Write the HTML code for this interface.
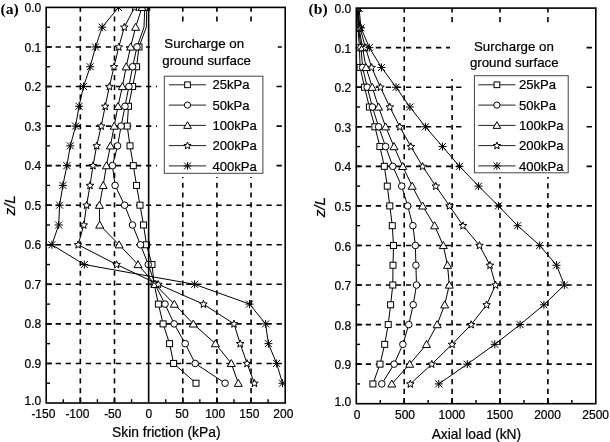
<!DOCTYPE html>
<html><head><meta charset="utf-8"><title>Skin friction and axial load</title>
<style>
html,body{margin:0;padding:0;background:#fff;}
body{width:610px;height:442px;overflow:hidden;}
svg{display:block;}
.t{font-family:"Liberation Sans",Arial,Helvetica,sans-serif;fill:#000;stroke:#000;stroke-width:0.22px;}
.mk{fill:#fff;stroke:#000;stroke-width:1.0;}
.ak{fill:none;stroke:#000;stroke-width:1.0;}
.ln{fill:none;stroke:#000;stroke-width:1.0;stroke-linejoin:round;}
.fr{fill:none;stroke:#000;stroke-width:1.6;}
.gh{fill:none;stroke:#000;stroke-width:1.6;stroke-dasharray:5.3 4.74;}
.gv{fill:none;stroke:#000;stroke-width:1.6;stroke-dasharray:5.2 4.58;}
.tk{fill:none;stroke:#000;stroke-width:1.4;}
.tk2{fill:none;stroke:#000;stroke-width:1.6;}
.lg{fill:#fff;stroke:#444;stroke-width:1;}
.ll{fill:none;stroke:#222;stroke-width:1;}
</style></head><body>
<svg width="610" height="442" viewBox="0 0 610 442">
<rect width="610" height="442" fill="#fff"/>
<defs>
<clipPath id="cl"><rect x="46.2" y="7.4" width="239" height="395.6"/></clipPath>
<clipPath id="cr"><rect x="356.3" y="8.1" width="239.5" height="395.6"/></clipPath>
</defs>
<path class="gh" d="M45.6 46.96H285.2"/>
<path class="tk2" d="M46.2 46.96H52"/>
<path class="gh" d="M45.6 86.52H285.2"/>
<path class="tk2" d="M46.2 86.52H52"/>
<path class="gh" d="M45.6 126.08H285.2"/>
<path class="tk2" d="M46.2 126.08H52"/>
<path class="gh" d="M45.6 165.64H285.2"/>
<path class="tk2" d="M46.2 165.64H52"/>
<path class="gh" d="M45.6 205.2H285.2"/>
<path class="tk2" d="M46.2 205.2H52"/>
<path class="gh" d="M45.6 244.76H285.2"/>
<path class="tk2" d="M46.2 244.76H52"/>
<path class="gh" d="M45.6 284.32H285.2"/>
<path class="tk2" d="M46.2 284.32H52"/>
<path class="gh" d="M45.6 323.88H285.2"/>
<path class="tk2" d="M46.2 323.88H52"/>
<path class="gh" d="M45.6 363.44H285.2"/>
<path class="tk2" d="M46.2 363.44H52"/>
<path class="gv" d="M80.34 403V7.4"/>
<path class="gv" d="M114.49 403V7.4"/>
<path class="gv" d="M182.77 403V7.4"/>
<path class="gv" d="M216.91 403V7.4"/>
<path class="gv" d="M251.06 403V7.4"/>
<path class="tk2" d="M80.34 403V397.4"/>
<path class="tk2" d="M114.49 403V397.4"/>
<path class="tk2" d="M182.77 403V397.4"/>
<path class="tk2" d="M216.91 403V397.4"/>
<path class="tk2" d="M251.06 403V397.4"/>
<path class="tk" d="M46.2 27.18H50"/>
<path class="tk" d="M46.2 66.74H50"/>
<path class="tk" d="M46.2 106.3H50"/>
<path class="tk" d="M46.2 145.86H50"/>
<path class="tk" d="M46.2 185.42H50"/>
<path class="tk" d="M46.2 224.98H50"/>
<path class="tk" d="M46.2 264.54H50"/>
<path class="tk" d="M46.2 304.1H50"/>
<path class="tk" d="M46.2 343.66H50"/>
<path class="tk" d="M46.2 383.22H50"/>
<path class="tk" d="M63.27 403V399.2"/>
<path class="tk" d="M97.41 403V399.2"/>
<path class="tk" d="M131.56 403V399.2"/>
<path class="tk" d="M165.7 403V399.2"/>
<path class="tk" d="M199.84 403V399.2"/>
<path class="tk" d="M233.99 403V399.2"/>
<path class="tk" d="M268.13 403V399.2"/>
<rect x="150" y="22.5" width="127.8" height="56.5" fill="#fff"/>
<rect x="157" y="76" width="119" height="101" fill="#fff"/>
<g clip-path="url(#cl)">
<polyline class="ln" points="118.5,7.4 102.2,27.18 95.5,46.96 90.2,66.74 83.5,86.52 79,106.3 75.6,126.08 70.3,145.86 66.9,165.64 62.9,185.42 59.6,205.2 58.7,224.98 51.9,244.76 84.3,264.54 194.6,284.32 249.5,304.1 265.6,323.88 268.4,343.66 276.6,363.44 282.5,383.22"/>
<polyline class="ln" points="134.6,7.4 124.3,27.18 118.8,46.96 114,66.74 109.4,86.52 105.2,106.3 101.2,126.08 96.7,145.86 93,165.64 90,185.42 86.6,205.2 83.8,224.98 78.1,244.76 116.6,264.54 158.3,284.32 203.4,304.1 234,323.88 240.2,343.66 247,363.44 254.4,383.22"/>
<polyline class="ln" points="142,7.4 135.6,27.18 130.6,46.96 126.2,66.74 122.4,86.52 118,106.3 114.2,126.08 110.4,145.86 106.4,165.64 103.2,185.42 99.4,205.2 99.7,224.98 119.1,244.76 138,264.54 155,284.32 174.3,304.1 193.3,323.88 215.4,343.66 231.3,363.44 238.3,383.22"/>
<polyline class="ln" points="144.8,7.4 144,27.18 137,46.96 132.6,66.74 128.9,86.52 125,106.3 121.1,126.08 117.6,145.86 112.4,165.64 115.1,185.42 124.6,205.2 132.5,224.98 140.5,244.76 148.3,264.54 155,284.32 165,304.1 174.1,323.88 185.2,343.66 195.2,363.44 225.1,383.22"/>
<polyline class="ln" points="146.8,7.4 146.3,27.18 139,46.96 136.6,66.74 132.6,86.52 128.5,106.3 127.2,126.08 130,145.86 133.3,165.64 136.5,185.42 140,205.2 143.5,224.98 146.5,244.76 152,264.54 154.2,284.32 158.4,304.1 163.1,323.88 169.6,343.66 173.6,363.44 196,383.22"/>
<rect x="143.8" y="4.4" width="6" height="6" class="mk"/>
<rect x="136" y="43.96" width="6" height="6" class="mk"/>
<rect x="133.6" y="63.74" width="6" height="6" class="mk"/>
<rect x="129.6" y="83.52" width="6" height="6" class="mk"/>
<rect x="125.5" y="103.3" width="6" height="6" class="mk"/>
<rect x="124.2" y="123.08" width="6" height="6" class="mk"/>
<rect x="127" y="142.86" width="6" height="6" class="mk"/>
<rect x="130.3" y="162.64" width="6" height="6" class="mk"/>
<rect x="133.5" y="182.42" width="6" height="6" class="mk"/>
<rect x="137" y="202.2" width="6" height="6" class="mk"/>
<rect x="140.5" y="221.98" width="6" height="6" class="mk"/>
<rect x="143.5" y="241.76" width="6" height="6" class="mk"/>
<rect x="149" y="261.54" width="6" height="6" class="mk"/>
<rect x="151.2" y="281.32" width="6" height="6" class="mk"/>
<rect x="155.4" y="301.1" width="6" height="6" class="mk"/>
<rect x="160.1" y="320.88" width="6" height="6" class="mk"/>
<rect x="166.6" y="340.66" width="6" height="6" class="mk"/>
<rect x="170.6" y="360.44" width="6" height="6" class="mk"/>
<rect x="193" y="380.22" width="6" height="6" class="mk"/>
<circle cx="144.8" cy="7.4" r="3.3" class="mk"/>
<circle cx="137" cy="46.96" r="3.3" class="mk"/>
<circle cx="132.6" cy="66.74" r="3.3" class="mk"/>
<circle cx="128.9" cy="86.52" r="3.3" class="mk"/>
<circle cx="125" cy="106.3" r="3.3" class="mk"/>
<circle cx="121.1" cy="126.08" r="3.3" class="mk"/>
<circle cx="117.6" cy="145.86" r="3.3" class="mk"/>
<circle cx="112.4" cy="165.64" r="3.3" class="mk"/>
<circle cx="115.1" cy="185.42" r="3.3" class="mk"/>
<circle cx="124.6" cy="205.2" r="3.3" class="mk"/>
<circle cx="132.5" cy="224.98" r="3.3" class="mk"/>
<circle cx="140.5" cy="244.76" r="3.3" class="mk"/>
<circle cx="148.3" cy="264.54" r="3.3" class="mk"/>
<circle cx="155" cy="284.32" r="3.3" class="mk"/>
<circle cx="165" cy="304.1" r="3.3" class="mk"/>
<circle cx="174.1" cy="323.88" r="3.3" class="mk"/>
<circle cx="185.2" cy="343.66" r="3.3" class="mk"/>
<circle cx="195.2" cy="363.44" r="3.3" class="mk"/>
<circle cx="225.1" cy="383.22" r="3.3" class="mk"/>
<polygon points="142,3.5 146,10.52 138,10.52" class="mk"/>
<polygon points="135.6,23.28 139.6,30.3 131.6,30.3" class="mk"/>
<polygon points="130.6,43.06 134.6,50.09 126.6,50.09" class="mk"/>
<polygon points="126.2,62.84 130.2,69.87 122.2,69.87" class="mk"/>
<polygon points="122.4,82.62 126.4,89.65 118.4,89.65" class="mk"/>
<polygon points="118,102.4 122,109.43 114,109.43" class="mk"/>
<polygon points="114.2,122.18 118.2,129.21 110.2,129.21" class="mk"/>
<polygon points="110.4,141.96 114.4,148.99 106.4,148.99" class="mk"/>
<polygon points="106.4,161.74 110.4,168.77 102.4,168.77" class="mk"/>
<polygon points="103.2,181.52 107.2,188.55 99.2,188.55" class="mk"/>
<polygon points="99.4,201.3 103.4,208.33 95.4,208.33" class="mk"/>
<polygon points="99.7,221.08 103.7,228.11 95.7,228.11" class="mk"/>
<polygon points="119.1,240.86 123.1,247.89 115.1,247.89" class="mk"/>
<polygon points="138,260.64 142,267.67 134,267.67" class="mk"/>
<polygon points="155,280.42 159,287.44 151,287.44" class="mk"/>
<polygon points="174.3,300.2 178.3,307.23 170.3,307.23" class="mk"/>
<polygon points="193.3,319.98 197.3,327 189.3,327" class="mk"/>
<polygon points="215.4,339.76 219.4,346.79 211.4,346.79" class="mk"/>
<polygon points="231.3,359.54 235.3,366.56 227.3,366.56" class="mk"/>
<polygon points="238.3,379.32 242.3,386.35 234.3,386.35" class="mk"/>
<polygon points="134.6,3.6 135.63,6.18 138.4,6.36 136.26,8.14 136.95,10.84 134.6,9.35 132.25,10.84 132.94,8.14 130.8,6.36 133.57,6.18" class="mk"/>
<polygon points="124.3,23.38 125.33,25.96 128.1,26.14 125.96,27.92 126.65,30.62 124.3,29.13 121.95,30.62 122.64,27.92 120.5,26.14 123.27,25.96" class="mk"/>
<polygon points="118.8,43.16 119.83,45.74 122.6,45.92 120.46,47.7 121.15,50.4 118.8,48.91 116.45,50.4 117.14,47.7 115,45.92 117.77,45.74" class="mk"/>
<polygon points="114,62.94 115.03,65.52 117.8,65.7 115.66,67.48 116.35,70.18 114,68.69 111.65,70.18 112.34,67.48 110.2,65.7 112.97,65.52" class="mk"/>
<polygon points="109.4,82.72 110.43,85.3 113.2,85.48 111.06,87.26 111.75,89.96 109.4,88.47 107.05,89.96 107.74,87.26 105.6,85.48 108.37,85.3" class="mk"/>
<polygon points="105.2,102.5 106.23,105.08 109,105.26 106.86,107.04 107.55,109.74 105.2,108.25 102.85,109.74 103.54,107.04 101.4,105.26 104.17,105.08" class="mk"/>
<polygon points="101.2,122.28 102.23,124.86 105,125.04 102.86,126.82 103.55,129.52 101.2,128.03 98.85,129.52 99.54,126.82 97.4,125.04 100.17,124.86" class="mk"/>
<polygon points="96.7,142.06 97.73,144.64 100.5,144.82 98.36,146.6 99.05,149.3 96.7,147.81 94.35,149.3 95.04,146.6 92.9,144.82 95.67,144.64" class="mk"/>
<polygon points="93,161.84 94.03,164.42 96.8,164.6 94.66,166.38 95.35,169.08 93,167.59 90.65,169.08 91.34,166.38 89.2,164.6 91.97,164.42" class="mk"/>
<polygon points="90,181.62 91.03,184.2 93.8,184.38 91.66,186.16 92.35,188.86 90,187.37 87.65,188.86 88.34,186.16 86.2,184.38 88.97,184.2" class="mk"/>
<polygon points="86.6,201.4 87.63,203.98 90.4,204.16 88.26,205.94 88.95,208.64 86.6,207.15 84.25,208.64 84.94,205.94 82.8,204.16 85.57,203.98" class="mk"/>
<polygon points="83.8,221.18 84.83,223.76 87.6,223.94 85.46,225.72 86.15,228.42 83.8,226.93 81.45,228.42 82.14,225.72 80,223.94 82.77,223.76" class="mk"/>
<polygon points="78.1,240.96 79.13,243.54 81.9,243.72 79.76,245.5 80.45,248.2 78.1,246.71 75.75,248.2 76.44,245.5 74.3,243.72 77.07,243.54" class="mk"/>
<polygon points="116.6,260.74 117.63,263.32 120.4,263.5 118.26,265.28 118.95,267.98 116.6,266.49 114.25,267.98 114.94,265.28 112.8,263.5 115.57,263.32" class="mk"/>
<polygon points="158.3,280.52 159.33,283.1 162.1,283.28 159.96,285.06 160.65,287.76 158.3,286.27 155.95,287.76 156.64,285.06 154.5,283.28 157.27,283.1" class="mk"/>
<polygon points="203.4,300.3 204.43,302.88 207.2,303.06 205.06,304.84 205.75,307.54 203.4,306.05 201.05,307.54 201.74,304.84 199.6,303.06 202.37,302.88" class="mk"/>
<polygon points="234,320.08 235.03,322.66 237.8,322.84 235.66,324.62 236.35,327.32 234,325.83 231.65,327.32 232.34,324.62 230.2,322.84 232.97,322.66" class="mk"/>
<polygon points="240.2,339.86 241.23,342.44 244,342.62 241.86,344.4 242.55,347.1 240.2,345.61 237.85,347.1 238.54,344.4 236.4,342.62 239.17,342.44" class="mk"/>
<polygon points="247,359.64 248.03,362.22 250.8,362.4 248.66,364.18 249.35,366.88 247,365.39 244.65,366.88 245.34,364.18 243.2,362.4 245.97,362.22" class="mk"/>
<polygon points="254.4,379.42 255.43,382 258.2,382.18 256.06,383.96 256.75,386.66 254.4,385.17 252.05,386.66 252.74,383.96 250.6,382.18 253.37,382" class="mk"/>
<path d="M114.5 7.4H122.5M118.5 3.4V11.4M115 3.9L122 10.9M115 10.9L122 3.9" class="ak"/>
<path d="M98.2 27.18H106.2M102.2 23.18V31.18M98.7 23.68L105.7 30.68M98.7 30.68L105.7 23.68" class="ak"/>
<path d="M91.5 46.96H99.5M95.5 42.96V50.96M92 43.46L99 50.46M92 50.46L99 43.46" class="ak"/>
<path d="M86.2 66.74H94.2M90.2 62.74V70.74M86.7 63.24L93.7 70.24M86.7 70.24L93.7 63.24" class="ak"/>
<path d="M79.5 86.52H87.5M83.5 82.52V90.52M80 83.02L87 90.02M80 90.02L87 83.02" class="ak"/>
<path d="M75 106.3H83M79 102.3V110.3M75.5 102.8L82.5 109.8M75.5 109.8L82.5 102.8" class="ak"/>
<path d="M71.6 126.08H79.6M75.6 122.08V130.08M72.1 122.58L79.1 129.58M72.1 129.58L79.1 122.58" class="ak"/>
<path d="M66.3 145.86H74.3M70.3 141.86V149.86M66.8 142.36L73.8 149.36M66.8 149.36L73.8 142.36" class="ak"/>
<path d="M62.9 165.64H70.9M66.9 161.64V169.64M63.4 162.14L70.4 169.14M63.4 169.14L70.4 162.14" class="ak"/>
<path d="M58.9 185.42H66.9M62.9 181.42V189.42M59.4 181.92L66.4 188.92M59.4 188.92L66.4 181.92" class="ak"/>
<path d="M55.6 205.2H63.6M59.6 201.2V209.2M56.1 201.7L63.1 208.7M56.1 208.7L63.1 201.7" class="ak"/>
<path d="M54.7 224.98H62.7M58.7 220.98V228.98M55.2 221.48L62.2 228.48M55.2 228.48L62.2 221.48" class="ak"/>
<path d="M47.9 244.76H55.9M51.9 240.76V248.76M48.4 241.26L55.4 248.26M48.4 248.26L55.4 241.26" class="ak"/>
<path d="M80.3 264.54H88.3M84.3 260.54V268.54M80.8 261.04L87.8 268.04M80.8 268.04L87.8 261.04" class="ak"/>
<path d="M190.6 284.32H198.6M194.6 280.32V288.32M191.1 280.82L198.1 287.82M191.1 287.82L198.1 280.82" class="ak"/>
<path d="M245.5 304.1H253.5M249.5 300.1V308.1M246 300.6L253 307.6M246 307.6L253 300.6" class="ak"/>
<path d="M261.6 323.88H269.6M265.6 319.88V327.88M262.1 320.38L269.1 327.38M262.1 327.38L269.1 320.38" class="ak"/>
<path d="M264.4 343.66H272.4M268.4 339.66V347.66M264.9 340.16L271.9 347.16M264.9 347.16L271.9 340.16" class="ak"/>
<path d="M272.6 363.44H280.6M276.6 359.44V367.44M273.1 359.94L280.1 366.94M273.1 366.94L280.1 359.94" class="ak"/>
<path d="M278.5 383.22H286.5M282.5 379.22V387.22M279 379.72L286 386.72M279 386.72L286 379.72" class="ak"/>
</g>
<rect class="fr" x="46.2" y="7.4" width="239" height="395.6"/>
<rect class="lg" x="164.3" y="76.2" width="98.6" height="97.1"/>
<path class="ll" d="M168.8 84.8H206.1"/>
<rect x="184.65" y="81.95" width="5.7" height="5.7" class="mk"/>
<text class="t" x="212.4" y="89.4" font-size="13.1">25kPa</text>
<path class="ll" d="M168.8 105.1H206.1"/>
<circle cx="187.5" cy="105.1" r="3.13" class="mk"/>
<text class="t" x="212.4" y="109.7" font-size="13.1">50kPa</text>
<path class="ll" d="M168.8 125.4H206.1"/>
<polygon points="187.5,121.7 191.3,128.38 183.7,128.38" class="mk"/>
<text class="t" x="212.4" y="130" font-size="13.1">100kPa</text>
<path class="ll" d="M168.8 145.6H206.1"/>
<polygon points="187.5,142 188.48,144.46 191.11,144.63 189.08,146.31 189.73,148.87 187.5,147.46 185.27,148.87 185.92,146.31 183.89,144.63 186.52,144.46" class="mk"/>
<text class="t" x="212.4" y="150.2" font-size="13.1">200kPa</text>
<path class="ll" d="M168.8 165.9H206.1"/>
<path d="M183.7 165.9H191.3M187.5 162.1V169.7M184.18 162.58L190.82 169.22M184.18 169.22L190.82 162.58" class="ak"/>
<text class="t" x="212.4" y="170.5" font-size="13.1">400kPa</text>
<text class="t" x="164.3" y="47.5" font-size="13.3">Surcharge on</text>
<text class="t" x="162.3" y="64.8" font-size="13.3">ground surface</text>
<text class="t" x="41.2" y="12" font-size="12.0" text-anchor="end">0.0</text>
<text class="t" x="41.2" y="51.56" font-size="12.0" text-anchor="end">0.1</text>
<text class="t" x="41.2" y="91.12" font-size="12.0" text-anchor="end">0.2</text>
<text class="t" x="41.2" y="130.68" font-size="12.0" text-anchor="end">0.3</text>
<text class="t" x="41.2" y="170.24" font-size="12.0" text-anchor="end">0.4</text>
<text class="t" x="41.2" y="209.8" font-size="12.0" text-anchor="end">0.5</text>
<text class="t" x="41.2" y="249.36" font-size="12.0" text-anchor="end">0.6</text>
<text class="t" x="41.2" y="288.92" font-size="12.0" text-anchor="end">0.7</text>
<text class="t" x="41.2" y="328.48" font-size="12.0" text-anchor="end">0.8</text>
<text class="t" x="41.2" y="368.04" font-size="12.0" text-anchor="end">0.9</text>
<text class="t" x="41.2" y="404.9" font-size="12.0" text-anchor="end">1.0</text>
<text class="t" x="43.4" y="417.8" font-size="12.0" text-anchor="middle">-150</text>
<text class="t" x="77.4" y="417.8" font-size="12.0" text-anchor="middle">-100</text>
<text class="t" x="112.8" y="417.8" font-size="12.0" text-anchor="middle">-50</text>
<text class="t" x="148.9" y="417.8" font-size="12.0" text-anchor="middle">0</text>
<text class="t" x="182" y="417.8" font-size="12.0" text-anchor="middle">50</text>
<text class="t" x="215.2" y="417.8" font-size="12.0" text-anchor="middle">100</text>
<text class="t" x="249.3" y="417.8" font-size="12.0" text-anchor="middle">150</text>
<text class="t" x="283.3" y="417.8" font-size="12.0" text-anchor="middle">200</text>
<text class="t" x="166.3" y="436.6" font-size="13.85" text-anchor="middle">Skin friction (kPa)</text>
<path d="M148.63 7.4V403" stroke="#000" stroke-width="1.6" fill="none"/>
<path class="gh" d="M355.7 47.66H595.8"/>
<path class="tk2" d="M356.3 47.66H362.1"/>
<path class="gh" d="M355.7 87.22H595.8"/>
<path class="tk2" d="M356.3 87.22H362.1"/>
<path class="gh" d="M355.7 126.78H595.8"/>
<path class="tk2" d="M356.3 126.78H362.1"/>
<path class="gh" d="M355.7 166.34H595.8"/>
<path class="tk2" d="M356.3 166.34H362.1"/>
<path class="gh" d="M355.7 205.9H595.8"/>
<path class="tk2" d="M356.3 205.9H362.1"/>
<path class="gh" d="M355.7 245.46H595.8"/>
<path class="tk2" d="M356.3 245.46H362.1"/>
<path class="gh" d="M355.7 285.02H595.8"/>
<path class="tk2" d="M356.3 285.02H362.1"/>
<path class="gh" d="M355.7 324.58H595.8"/>
<path class="tk2" d="M356.3 324.58H362.1"/>
<path class="gh" d="M355.7 364.14H595.8"/>
<path class="tk2" d="M356.3 364.14H362.1"/>
<path class="gv" d="M404.2 403.7V8.1"/>
<path class="gv" d="M452.1 403.7V8.1"/>
<path class="gv" d="M500 403.7V8.1"/>
<path class="gv" d="M547.9 403.7V8.1"/>
<path class="tk2" d="M404.2 403.7V398.1"/>
<path class="tk2" d="M452.1 403.7V398.1"/>
<path class="tk2" d="M500 403.7V398.1"/>
<path class="tk2" d="M547.9 403.7V398.1"/>
<path class="tk" d="M356.3 27.88H360.1"/>
<path class="tk" d="M356.3 67.44H360.1"/>
<path class="tk" d="M356.3 107H360.1"/>
<path class="tk" d="M356.3 146.56H360.1"/>
<path class="tk" d="M356.3 186.12H360.1"/>
<path class="tk" d="M356.3 225.68H360.1"/>
<path class="tk" d="M356.3 265.24H360.1"/>
<path class="tk" d="M356.3 304.8H360.1"/>
<path class="tk" d="M356.3 344.36H360.1"/>
<path class="tk" d="M356.3 383.92H360.1"/>
<path class="tk" d="M380.25 403.7V399.9"/>
<path class="tk" d="M428.15 403.7V399.9"/>
<path class="tk" d="M476.05 403.7V399.9"/>
<path class="tk" d="M523.95 403.7V399.9"/>
<path class="tk" d="M571.85 403.7V399.9"/>
<rect x="450" y="23" width="136" height="56" fill="#fff"/>
<rect x="462" y="76" width="124" height="101" fill="#fff"/>
<g clip-path="url(#cr)">
<polyline class="ln" points="359,8.1 361,27.88 369.3,47.66 381.5,67.44 396,87.22 409.9,107 425.4,126.78 442.5,146.56 459.5,166.34 478.6,186.12 498.4,205.9 517.6,225.68 539.7,245.46 556.5,265.24 564.4,285.02 543.9,304.8 520.1,324.58 494.8,344.36 467.3,364.14 438.8,383.92"/>
<polyline class="ln" points="358,8.1 360,27.88 365.5,47.66 371.6,67.44 380.4,87.22 389.8,107 399.8,126.78 410.9,146.56 422.6,166.34 435.8,186.12 449.5,205.9 463,225.68 479.5,245.46 490,265.24 495.6,285.02 486.6,304.8 471.2,324.58 452.1,344.36 431.8,364.14 410.3,383.92"/>
<polyline class="ln" points="357.5,8.1 359,27.88 362.5,47.66 366,67.44 372.2,87.22 378.6,107 385.6,126.78 394,146.56 402.7,166.34 412.2,186.12 422.6,205.9 434.6,225.68 443.3,245.46 447.5,265.24 449.3,285.02 444.7,304.8 437.1,324.58 426.5,344.36 409.7,364.14 391.8,383.92"/>
<polyline class="ln" points="357.5,8.1 358.5,27.88 361,47.66 362.6,67.44 367.2,87.22 372.4,107 378.6,126.78 385.6,146.56 392.8,166.34 401.7,186.12 407.7,205.9 412.9,225.68 415.4,245.46 415.9,265.24 416.5,285.02 413.2,304.8 408.8,324.58 402.9,344.36 394.1,364.14 381.8,383.92"/>
<polyline class="ln" points="357.5,8.1 358,27.88 359.4,47.66 360.1,67.44 364.5,87.22 369.4,107 374.9,126.78 379.9,146.56 384.3,166.34 387.3,186.12 389.8,205.9 392.3,225.68 393.5,245.46 393,265.24 392.8,285.02 390.6,304.8 388.2,324.58 384.7,344.36 380,364.14 372.9,383.92"/>
<rect x="354.5" y="5.1" width="6" height="6" class="mk"/>
<rect x="355" y="24.88" width="6" height="6" class="mk"/>
<rect x="356.4" y="44.66" width="6" height="6" class="mk"/>
<rect x="357.1" y="64.44" width="6" height="6" class="mk"/>
<rect x="361.5" y="84.22" width="6" height="6" class="mk"/>
<rect x="366.4" y="104" width="6" height="6" class="mk"/>
<rect x="371.9" y="123.78" width="6" height="6" class="mk"/>
<rect x="376.9" y="143.56" width="6" height="6" class="mk"/>
<rect x="381.3" y="163.34" width="6" height="6" class="mk"/>
<rect x="384.3" y="183.12" width="6" height="6" class="mk"/>
<rect x="386.8" y="202.9" width="6" height="6" class="mk"/>
<rect x="389.3" y="222.68" width="6" height="6" class="mk"/>
<rect x="390.5" y="242.46" width="6" height="6" class="mk"/>
<rect x="390" y="262.24" width="6" height="6" class="mk"/>
<rect x="389.8" y="282.02" width="6" height="6" class="mk"/>
<rect x="387.6" y="301.8" width="6" height="6" class="mk"/>
<rect x="385.2" y="321.58" width="6" height="6" class="mk"/>
<rect x="381.7" y="341.36" width="6" height="6" class="mk"/>
<rect x="377" y="361.14" width="6" height="6" class="mk"/>
<rect x="369.9" y="380.92" width="6" height="6" class="mk"/>
<circle cx="357.5" cy="8.1" r="3.3" class="mk"/>
<circle cx="358.5" cy="27.88" r="3.3" class="mk"/>
<circle cx="361" cy="47.66" r="3.3" class="mk"/>
<circle cx="362.6" cy="67.44" r="3.3" class="mk"/>
<circle cx="367.2" cy="87.22" r="3.3" class="mk"/>
<circle cx="372.4" cy="107" r="3.3" class="mk"/>
<circle cx="378.6" cy="126.78" r="3.3" class="mk"/>
<circle cx="385.6" cy="146.56" r="3.3" class="mk"/>
<circle cx="392.8" cy="166.34" r="3.3" class="mk"/>
<circle cx="401.7" cy="186.12" r="3.3" class="mk"/>
<circle cx="407.7" cy="205.9" r="3.3" class="mk"/>
<circle cx="412.9" cy="225.68" r="3.3" class="mk"/>
<circle cx="415.4" cy="245.46" r="3.3" class="mk"/>
<circle cx="415.9" cy="265.24" r="3.3" class="mk"/>
<circle cx="416.5" cy="285.02" r="3.3" class="mk"/>
<circle cx="413.2" cy="304.8" r="3.3" class="mk"/>
<circle cx="408.8" cy="324.58" r="3.3" class="mk"/>
<circle cx="402.9" cy="344.36" r="3.3" class="mk"/>
<circle cx="394.1" cy="364.14" r="3.3" class="mk"/>
<circle cx="381.8" cy="383.92" r="3.3" class="mk"/>
<polygon points="357.5,4.2 361.5,11.22 353.5,11.22" class="mk"/>
<polygon points="359,23.98 363,31.01 355,31.01" class="mk"/>
<polygon points="362.5,43.76 366.5,50.79 358.5,50.79" class="mk"/>
<polygon points="366,63.54 370,70.56 362,70.56" class="mk"/>
<polygon points="372.2,83.32 376.2,90.34 368.2,90.34" class="mk"/>
<polygon points="378.6,103.1 382.6,110.12 374.6,110.12" class="mk"/>
<polygon points="385.6,122.88 389.6,129.91 381.6,129.91" class="mk"/>
<polygon points="394,142.66 398,149.69 390,149.69" class="mk"/>
<polygon points="402.7,162.44 406.7,169.47 398.7,169.47" class="mk"/>
<polygon points="412.2,182.22 416.2,189.24 408.2,189.24" class="mk"/>
<polygon points="422.6,202 426.6,209.02 418.6,209.02" class="mk"/>
<polygon points="434.6,221.78 438.6,228.81 430.6,228.81" class="mk"/>
<polygon points="443.3,241.56 447.3,248.59 439.3,248.59" class="mk"/>
<polygon points="447.5,261.34 451.5,268.37 443.5,268.37" class="mk"/>
<polygon points="449.3,281.12 453.3,288.15 445.3,288.15" class="mk"/>
<polygon points="444.7,300.9 448.7,307.93 440.7,307.93" class="mk"/>
<polygon points="437.1,320.68 441.1,327.71 433.1,327.71" class="mk"/>
<polygon points="426.5,340.46 430.5,347.49 422.5,347.49" class="mk"/>
<polygon points="409.7,360.24 413.7,367.26 405.7,367.26" class="mk"/>
<polygon points="391.8,380.02 395.8,387.05 387.8,387.05" class="mk"/>
<polygon points="358,4.3 359.03,6.88 361.8,7.06 359.66,8.84 360.35,11.54 358,10.05 355.65,11.54 356.34,8.84 354.2,7.06 356.97,6.88" class="mk"/>
<polygon points="360,24.08 361.03,26.66 363.8,26.84 361.66,28.62 362.35,31.32 360,29.83 357.65,31.32 358.34,28.62 356.2,26.84 358.97,26.66" class="mk"/>
<polygon points="365.5,43.86 366.53,46.44 369.3,46.62 367.16,48.4 367.85,51.1 365.5,49.61 363.15,51.1 363.84,48.4 361.7,46.62 364.47,46.44" class="mk"/>
<polygon points="371.6,63.64 372.63,66.22 375.4,66.4 373.26,68.18 373.95,70.88 371.6,69.39 369.25,70.88 369.94,68.18 367.8,66.4 370.57,66.22" class="mk"/>
<polygon points="380.4,83.42 381.43,86 384.2,86.18 382.06,87.96 382.75,90.66 380.4,89.17 378.05,90.66 378.74,87.96 376.6,86.18 379.37,86" class="mk"/>
<polygon points="389.8,103.2 390.83,105.78 393.6,105.96 391.46,107.74 392.15,110.44 389.8,108.95 387.45,110.44 388.14,107.74 386,105.96 388.77,105.78" class="mk"/>
<polygon points="399.8,122.98 400.83,125.56 403.6,125.74 401.46,127.52 402.15,130.22 399.8,128.73 397.45,130.22 398.14,127.52 396,125.74 398.77,125.56" class="mk"/>
<polygon points="410.9,142.76 411.93,145.34 414.7,145.52 412.56,147.3 413.25,150 410.9,148.51 408.55,150 409.24,147.3 407.1,145.52 409.87,145.34" class="mk"/>
<polygon points="422.6,162.54 423.63,165.12 426.4,165.3 424.26,167.08 424.95,169.78 422.6,168.29 420.25,169.78 420.94,167.08 418.8,165.3 421.57,165.12" class="mk"/>
<polygon points="435.8,182.32 436.83,184.9 439.6,185.08 437.46,186.86 438.15,189.56 435.8,188.07 433.45,189.56 434.14,186.86 432,185.08 434.77,184.9" class="mk"/>
<polygon points="449.5,202.1 450.53,204.68 453.3,204.86 451.16,206.64 451.85,209.34 449.5,207.85 447.15,209.34 447.84,206.64 445.7,204.86 448.47,204.68" class="mk"/>
<polygon points="463,221.88 464.03,224.46 466.8,224.64 464.66,226.42 465.35,229.12 463,227.63 460.65,229.12 461.34,226.42 459.2,224.64 461.97,224.46" class="mk"/>
<polygon points="479.5,241.66 480.53,244.24 483.3,244.42 481.16,246.2 481.85,248.9 479.5,247.41 477.15,248.9 477.84,246.2 475.7,244.42 478.47,244.24" class="mk"/>
<polygon points="490,261.44 491.03,264.02 493.8,264.2 491.66,265.98 492.35,268.68 490,267.19 487.65,268.68 488.34,265.98 486.2,264.2 488.97,264.02" class="mk"/>
<polygon points="495.6,281.22 496.63,283.8 499.4,283.98 497.26,285.76 497.95,288.46 495.6,286.97 493.25,288.46 493.94,285.76 491.8,283.98 494.57,283.8" class="mk"/>
<polygon points="486.6,301 487.63,303.58 490.4,303.76 488.26,305.54 488.95,308.24 486.6,306.75 484.25,308.24 484.94,305.54 482.8,303.76 485.57,303.58" class="mk"/>
<polygon points="471.2,320.78 472.23,323.36 475,323.54 472.86,325.32 473.55,328.02 471.2,326.53 468.85,328.02 469.54,325.32 467.4,323.54 470.17,323.36" class="mk"/>
<polygon points="452.1,340.56 453.13,343.14 455.9,343.32 453.76,345.1 454.45,347.8 452.1,346.31 449.75,347.8 450.44,345.1 448.3,343.32 451.07,343.14" class="mk"/>
<polygon points="431.8,360.34 432.83,362.92 435.6,363.1 433.46,364.88 434.15,367.58 431.8,366.09 429.45,367.58 430.14,364.88 428,363.1 430.77,362.92" class="mk"/>
<polygon points="410.3,380.12 411.33,382.7 414.1,382.88 411.96,384.66 412.65,387.36 410.3,385.87 407.95,387.36 408.64,384.66 406.5,382.88 409.27,382.7" class="mk"/>
<path d="M355 8.1H363M359 4.1V12.1M355.5 4.6L362.5 11.6M355.5 11.6L362.5 4.6" class="ak"/>
<path d="M357 27.88H365M361 23.88V31.88M357.5 24.38L364.5 31.38M357.5 31.38L364.5 24.38" class="ak"/>
<path d="M365.3 47.66H373.3M369.3 43.66V51.66M365.8 44.16L372.8 51.16M365.8 51.16L372.8 44.16" class="ak"/>
<path d="M377.5 67.44H385.5M381.5 63.44V71.44M378 63.94L385 70.94M378 70.94L385 63.94" class="ak"/>
<path d="M392 87.22H400M396 83.22V91.22M392.5 83.72L399.5 90.72M392.5 90.72L399.5 83.72" class="ak"/>
<path d="M405.9 107H413.9M409.9 103V111M406.4 103.5L413.4 110.5M406.4 110.5L413.4 103.5" class="ak"/>
<path d="M421.4 126.78H429.4M425.4 122.78V130.78M421.9 123.28L428.9 130.28M421.9 130.28L428.9 123.28" class="ak"/>
<path d="M438.5 146.56H446.5M442.5 142.56V150.56M439 143.06L446 150.06M439 150.06L446 143.06" class="ak"/>
<path d="M455.5 166.34H463.5M459.5 162.34V170.34M456 162.84L463 169.84M456 169.84L463 162.84" class="ak"/>
<path d="M474.6 186.12H482.6M478.6 182.12V190.12M475.1 182.62L482.1 189.62M475.1 189.62L482.1 182.62" class="ak"/>
<path d="M494.4 205.9H502.4M498.4 201.9V209.9M494.9 202.4L501.9 209.4M494.9 209.4L501.9 202.4" class="ak"/>
<path d="M513.6 225.68H521.6M517.6 221.68V229.68M514.1 222.18L521.1 229.18M514.1 229.18L521.1 222.18" class="ak"/>
<path d="M535.7 245.46H543.7M539.7 241.46V249.46M536.2 241.96L543.2 248.96M536.2 248.96L543.2 241.96" class="ak"/>
<path d="M552.5 265.24H560.5M556.5 261.24V269.24M553 261.74L560 268.74M553 268.74L560 261.74" class="ak"/>
<path d="M560.4 285.02H568.4M564.4 281.02V289.02M560.9 281.52L567.9 288.52M560.9 288.52L567.9 281.52" class="ak"/>
<path d="M539.9 304.8H547.9M543.9 300.8V308.8M540.4 301.3L547.4 308.3M540.4 308.3L547.4 301.3" class="ak"/>
<path d="M516.1 324.58H524.1M520.1 320.58V328.58M516.6 321.08L523.6 328.08M516.6 328.08L523.6 321.08" class="ak"/>
<path d="M490.8 344.36H498.8M494.8 340.36V348.36M491.3 340.86L498.3 347.86M491.3 347.86L498.3 340.86" class="ak"/>
<path d="M463.3 364.14H471.3M467.3 360.14V368.14M463.8 360.64L470.8 367.64M463.8 367.64L470.8 360.64" class="ak"/>
<path d="M434.8 383.92H442.8M438.8 379.92V387.92M435.3 380.42L442.3 387.42M435.3 387.42L442.3 380.42" class="ak"/>
</g>
<rect class="fr" x="356.3" y="8.1" width="239.5" height="395.6"/>
<rect class="lg" x="474.4" y="75.7" width="93.8" height="97.1"/>
<path class="ll" d="M478.3 84.8H515.5"/>
<rect x="494.05" y="81.95" width="5.7" height="5.7" class="mk"/>
<text class="t" x="519" y="89.4" font-size="13.1">25kPa</text>
<path class="ll" d="M478.3 105.1H515.5"/>
<circle cx="496.9" cy="105.1" r="3.13" class="mk"/>
<text class="t" x="519" y="109.7" font-size="13.1">50kPa</text>
<path class="ll" d="M478.3 125.4H515.5"/>
<polygon points="496.9,121.7 500.7,128.38 493.1,128.38" class="mk"/>
<text class="t" x="519" y="130" font-size="13.1">100kPa</text>
<path class="ll" d="M478.3 145.6H515.5"/>
<polygon points="496.9,142 497.88,144.46 500.51,144.63 498.48,146.31 499.13,148.87 496.9,147.46 494.67,148.87 495.32,146.31 493.29,144.63 495.92,144.46" class="mk"/>
<text class="t" x="519" y="150.2" font-size="13.1">200kPa</text>
<path class="ll" d="M478.3 165.9H515.5"/>
<path d="M493.1 165.9H500.7M496.9 162.1V169.7M493.57 162.58L500.22 169.22M493.57 169.22L500.22 162.58" class="ak"/>
<text class="t" x="519" y="170.5" font-size="13.1">400kPa</text>
<text class="t" x="474" y="50.5" font-size="13.3">Surcharge on</text>
<text class="t" x="469.9" y="66.9" font-size="13.3">ground surface</text>
<text class="t" x="351.3" y="13.2" font-size="12.0" text-anchor="end">0.0</text>
<text class="t" x="351.3" y="52.76" font-size="12.0" text-anchor="end">0.1</text>
<text class="t" x="351.3" y="92.32" font-size="12.0" text-anchor="end">0.2</text>
<text class="t" x="351.3" y="131.88" font-size="12.0" text-anchor="end">0.3</text>
<text class="t" x="351.3" y="171.44" font-size="12.0" text-anchor="end">0.4</text>
<text class="t" x="351.3" y="211" font-size="12.0" text-anchor="end">0.5</text>
<text class="t" x="351.3" y="250.56" font-size="12.0" text-anchor="end">0.6</text>
<text class="t" x="351.3" y="290.12" font-size="12.0" text-anchor="end">0.7</text>
<text class="t" x="351.3" y="329.68" font-size="12.0" text-anchor="end">0.8</text>
<text class="t" x="351.3" y="369.24" font-size="12.0" text-anchor="end">0.9</text>
<text class="t" x="351.3" y="405.9" font-size="12.0" text-anchor="end">1.0</text>
<text class="t" x="357" y="418.6" font-size="12.0" text-anchor="middle">0</text>
<text class="t" x="405" y="418.6" font-size="12.0" text-anchor="middle">500</text>
<text class="t" x="451.9" y="418.6" font-size="12.0" text-anchor="middle">1000</text>
<text class="t" x="499.8" y="418.6" font-size="12.0" text-anchor="middle">1500</text>
<text class="t" x="547.5" y="418.6" font-size="12.0" text-anchor="middle">2000</text>
<text class="t" x="595.7" y="418.6" font-size="12.0" text-anchor="middle">2500</text>
<text class="t" x="476.4" y="438.5" font-size="13.75" text-anchor="middle">Axial load (kN)</text>
<text class="t" font-size="15.2" font-style="italic" text-anchor="middle" transform="translate(14.6 205.4) rotate(-90)">z/L</text>
<text class="t" font-size="15.2" font-style="italic" text-anchor="middle" transform="translate(324.7 207.2) rotate(-90)">z/L</text>
<text x="0.6" y="14.4" font-family="'Liberation Serif','Times New Roman',serif" font-weight="bold" font-size="15.6">(a)</text>
<text x="308.6" y="14.4" font-family="'Liberation Serif','Times New Roman',serif" font-weight="bold" font-size="15.6">(b)</text>
</svg></body></html>
